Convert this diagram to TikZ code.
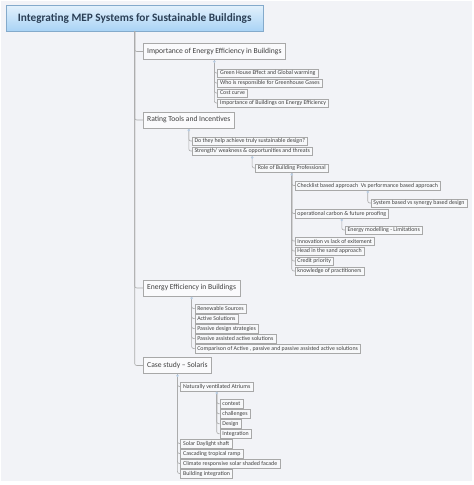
\documentclass[tikz,border=0pt]{standalone}
\usepackage{fontspec}
\setmainfont{Carlito}
\usepackage{tikz}
\usetikzlibrary{calc}
\definecolor{bgcol}{HTML}{F2F3F7}
\definecolor{boxline}{HTML}{A8A8A8}
\definecolor{linecol}{HTML}{ABABAB}
\definecolor{txtcol}{HTML}{404040}
\definecolor{titletop}{HTML}{E3F1FC}
\definecolor{titlebot}{HTML}{A9D3F5}
\definecolor{titleline}{HTML}{84AACB}
\definecolor{titletxt}{HTML}{2B3F55}
\definecolor{knobcol}{HTML}{B9CDE3}
\begin{document}
\begin{tikzpicture}[x=1pt,y=-1pt,
  title/.style={draw=titleline,top color=titletop,bottom color=titlebot,text=titletxt,
    font=\bfseries\fontsize{11.3}{13}\selectfont,minimum height=26pt,anchor=west},
  topic/.style={draw=boxline,fill=white!60!bgcol,text=txtcol,
    font=\fontsize{7.6}{9}\selectfont,minimum height=16pt,inner xsep=4pt,anchor=west},
  leaf/.style={draw=boxline,fill=white!40!bgcol,text=txtcol,
    font=\fontsize{5.9}{7}\selectfont,minimum height=8.6pt,inner xsep=2.5pt,inner ysep=0pt,anchor=west},
  conn/.style={draw=linecol,line width=0.6pt,rounded corners=2pt},
  knob/.style={fill=knobcol}]
\useasboundingbox (0,0) rectangle (474,485);
\fill[white] (0,0) rectangle (474,485);
\fill[bgcol] (1,1) rectangle (472,481);
% central topic
\node[title,minimum width=257pt] (title) at (6,18) {Integrating MEP Systems for Sustainable Buildings};
% main topics
\node[topic] (imp) at (143,51.5) {Importance of Energy Efficiency in Buildings};
\node[topic] (rat) at (143,120) {Rating Tools and Incentives};
\node[topic] (eeb) at (143,288) {Energy Efficiency in Buildings};
\node[topic] (cas) at (143,365.5) {Case study -- Solaris};
\foreach \t in {imp,rat,eeb,cas}
  \draw[conn] (title.south) |- (\t.west);
% Importance of Energy Efficiency in Buildings
\node[leaf] (ghe) at ($(imp.south |- 0,73)+(3,0)$) {Green House Effect and Global warming};
\node[leaf] (who) at ($(imp.south |- 0,83)+(3,0)$) {Who is responsible for Greenhouse Gases};
\node[leaf] (cost) at ($(imp.south |- 0,93)+(3,0)$) {Cost curve};
\node[leaf] (ibe) at ($(imp.south |- 0,103)+(3,0)$) {Importance of Buildings on Energy Efficiency};
\foreach \c in {ghe,who,cost,ibe}
  \draw[conn] (imp.south) |- (\c.west);
% Rating Tools and Incentives
\node[leaf] (help) at ($(rat.south |- 0,141)+(3,0)$) {Do they help achieve truly sustainable design?};
\node[leaf] (swot) at ($(rat.south |- 0,151)+(3,0)$) {Strength/ weakness \& opportunities and threats};
\foreach \c in {help,swot}
  \draw[conn] (rat.south) |- (\c.west);
\node[leaf] (role) at ($(swot.south |- 0,168)+(3,0)$) {Role of Building Professional};
\draw[conn] (swot.south) |- (role.west);
\node[leaf] (chk) at ($(role.south |- 0,185.5)+(3,0)$) {Checklist based approach\ \ Vs performance based approach};
\node[leaf] (ops) at ($(role.south |- 0,213.5)+(3,0)$) {operational carbon \& future proofing};
\node[leaf] (inno) at ($(role.south |- 0,241)+(3,0)$) {Innovation vs lack of exitement};
\node[leaf] (sand) at ($(role.south |- 0,251)+(3,0)$) {Head in the sand approach};
\node[leaf] (credit) at ($(role.south |- 0,261)+(3,0)$) {Credit priority};
\node[leaf] (know) at ($(role.south |- 0,271)+(3,0)$) {knowledge of practitioners};
\foreach \c in {chk,ops,inno,sand,credit,know}
  \draw[conn] (role.south) |- (\c.west);
\node[leaf] (sys) at ($(chk.south |- 0,203)+(3,0)$) {System based vs synergy based design};
\draw[conn] (chk.south) |- (sys.west);
\node[leaf] (emod) at ($(ops.south |- 0,230)+(3,0)$) {Energy modelling - Limitations};
\draw[conn] (ops.south) |- (emod.west);
% Energy Efficiency in Buildings
\node[leaf] (ren) at ($(eeb.south |- 0,308.5)+(3,0)$) {Renewable Sources};
\node[leaf] (act) at ($(eeb.south |- 0,318.5)+(3,0)$) {Active Solutions};
\node[leaf] (pds) at ($(eeb.south |- 0,328.5)+(3,0)$) {Passive design strategies};
\node[leaf] (paa) at ($(eeb.south |- 0,338.5)+(3,0)$) {Passive assisted active solutions};
\node[leaf] (cmp) at ($(eeb.south |- 0,348.5)+(3,0)$) {Comparison of Active , passive and passive assisted active solutions};
\foreach \c in {ren,act,pds,paa,cmp}
  \draw[conn] (eeb.south) |- (\c.west);
% Case study - Solaris
\node[leaf] (atr) at ($(cas.south |- 0,386.5)+(3,0)$) {Naturally ventilated Atriums};
\node[leaf] (sol) at ($(cas.south |- 0,443.5)+(3,0)$) {Solar Daylight shaft};
\node[leaf] (ramp) at ($(cas.south |- 0,453.5)+(3,0)$) {Cascading tropical ramp};
\node[leaf] (fac) at ($(cas.south |- 0,463.5)+(3,0)$) {Climate responsive solar shaded facade};
\node[leaf] (bint) at ($(cas.south |- 0,473.5)+(3,0)$) {Building integration};
\foreach \c in {atr,sol,ramp,fac,bint}
  \draw[conn] (cas.south) |- (\c.west);
\node[leaf] (ctx) at ($(atr.south |- 0,403.7)+(3,0)$) {context};
\node[leaf] (chal) at ($(atr.south |- 0,413.7)+(3,0)$) {challenges};
\node[leaf] (des) at ($(atr.south |- 0,423.7)+(3,0)$) {Design};
\node[leaf] (integ) at ($(atr.south |- 0,433.7)+(3,0)$) {Integration};
\foreach \c in {ctx,chal,des,integ}
  \draw[conn] (atr.south) |- (\c.west);
% collapse knobs
\foreach \p in {imp,rat,swot,role,chk,ops,eeb,cas,atr}
  \fill[knob] ([yshift=-2pt]\p.south) circle (1.4pt);
\end{tikzpicture}
\end{document}
